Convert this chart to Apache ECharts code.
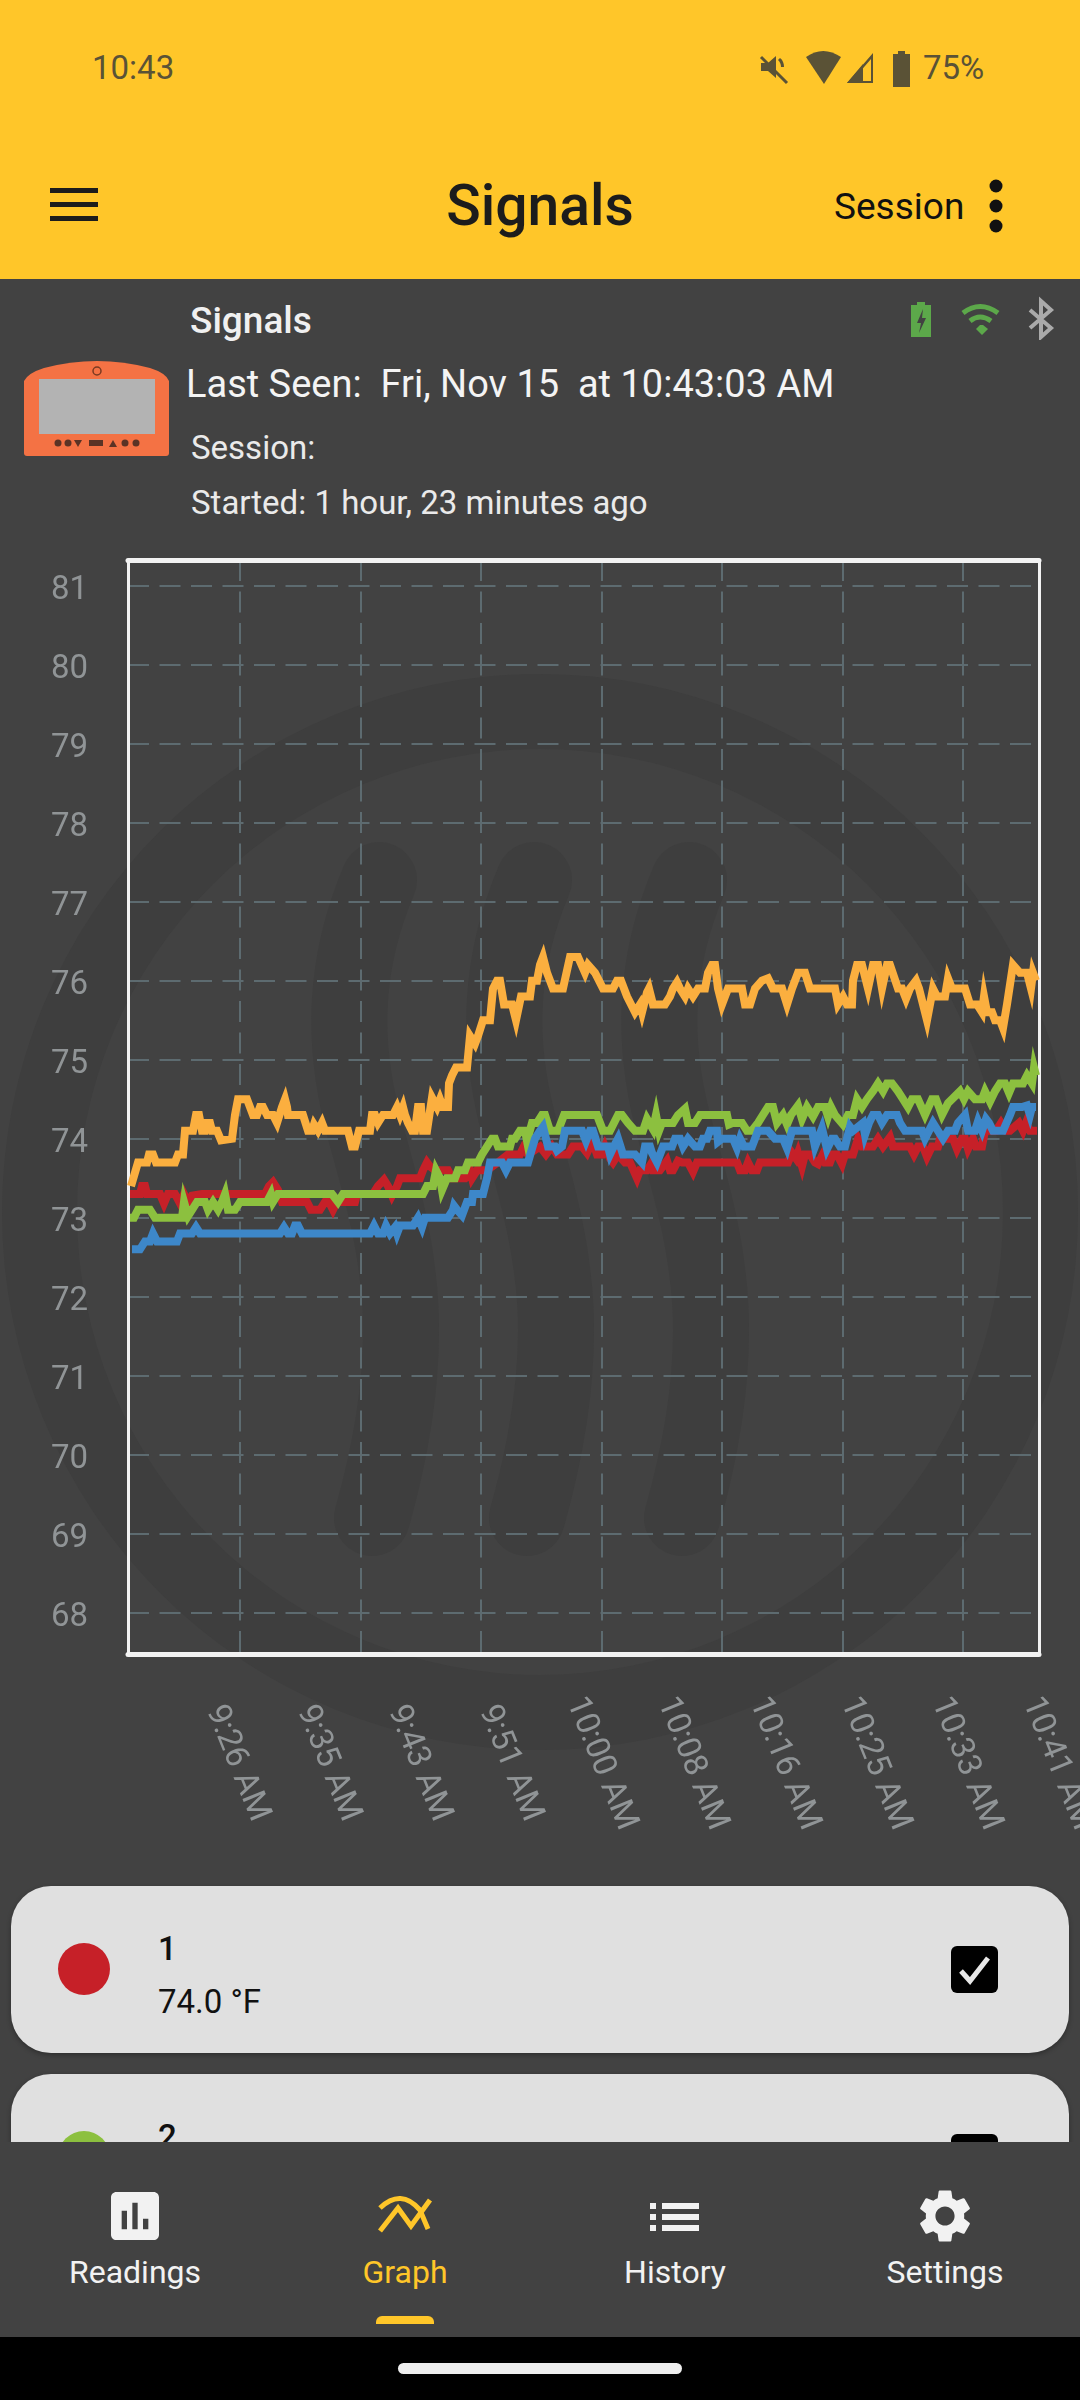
<!DOCTYPE html>
<html lang="en">
<head>
<meta charset="UTF-8">
<title>Signals</title>
<script src="https://cdn.jsdelivr.net/npm/echarts@6/dist/echarts.min.js"></script>
<style>
    html, body { margin: 0; background: #424242; }
    #app { position: relative; width: 1080px; height: 2400px; overflow: hidden; background: #424242; font-family: Roboto, sans-serif; }
    #app > * { position: absolute; }
    #chart { left: 0; top: 540px; width: 1080px; height: 1340px; }
    .t { white-space: pre; transform: translateY(-50%); line-height: 1; }
    .c { transform: translate(-50%, -50%); }
    .card { left: 11px; width: 1058px; background: #e0e0e0; border-radius: 40px; box-shadow: 0 2px 5px rgba(0,0,0,.3); }
</style>
</head>
<body>
<div id="app">
    <svg style="left:0;top:0" width="1080" height="2400">
        <path fill="#3e3e3e" fill-rule="evenodd" d="M2 1212a538 538 0 1 0 1076 0a538 538 0 1 0 -1076 0zM77 1212a463 463 0 1 1 926 0a463 463 0 1 1 -926 0z"/>
        <g fill="none" stroke="#3e3e3e" stroke-width="76" stroke-linecap="round">
            <path d="M379 880C345 960 340 1040 365 1130C395 1240 425 1330 372 1518"/>
            <path d="M534 880C500 960 495 1040 520 1130C550 1240 580 1330 527 1518"/>
            <path d="M689 880C655 960 650 1040 675 1130C705 1240 735 1330 682 1518"/>
        </g>
    </svg>
    <div id="chart"></div>

    <!-- top bar -->
    <div style="left:0;top:0;width:1080px;height:279px;background:#ffc629"></div>
    <div class="t" style="left:92px;top:67px;font-size:33px;color:#5a5236">10:43</div>
    <svg style="left:755px;top:48px" width="190" height="40" fill="#5a5236">
        <path d="M6 9l26 26" stroke="#5a5236" stroke-width="3"/>
        <path d="M6 15h7l8-7v22l-8-7H6z"/>
        <path d="M26 19c0-3-1-5-3-7l2-2c3 2 4 6 4 9z"/>
        <path d="M51 9q17-12 35 0l-17 27z"/>
        <path d="M92 35L118 5v30zM116 33V11L97 33z" fill-rule="evenodd"/>
        <path d="M92 35L108 16v19z"/>
        <path d="M138 6h5V3h7v3h5v33h-17z"/>
    </svg>
    <div class="t" style="left:923px;top:67px;font-size:33px;color:#5a5236">75%</div>
    <svg style="left:50px;top:188px" width="48" height="34" fill="#1c1c1c">
        <rect y="0" width="48" height="5"/><rect y="14" width="48" height="5"/><rect y="28" width="48" height="5"/>
    </svg>
    <div class="t c" style="left:540px;top:205px;font-size:57px;font-weight:500;color:#1c1c1c">Signals</div>
    <div class="t" style="left:834px;top:206px;font-size:37px;color:#111">Session</div>
    <svg style="left:988px;top:178px" width="16" height="56" fill="#111">
        <circle cx="8" cy="8" r="6.5"/><circle cx="8" cy="28" r="6.5"/><circle cx="8" cy="48" r="6.5"/>
    </svg>

    <!-- device header -->
    <div class="t" style="left:190px;top:320px;font-size:37px;font-weight:500;color:#f0f0f0">Signals</div>
    <svg style="left:903px;top:296px" width="160" height="44">
        <path fill="#5ca84a" d="M8 9h6V6h8v3h6v32H8z"/>
        <path fill="#424242" d="M20 13l-6 14h4l-2 10 7-15h-4z"/>
        <g fill="none" stroke="#5ca84a" stroke-width="5">
            <path d="M60 17q17-13 35 0"/><path d="M67 25q10-8 21 0"/>
        </g>
        <path fill="#5ca84a" d="M77 29h3l5 4-6 6-6-6z"/>
        <path fill="none" stroke="#aaa" stroke-width="4" d="M127 14l21 18-10 9V5l10 9-21 18"/>
    </svg>
    <div class="t" style="left:186px;top:384px;font-size:38px;color:#f4f4f4">Last Seen:  Fri, Nov 15  at 10:43:03 AM</div>
    <svg style="left:24px;top:359px" width="146" height="98">
        <path fill="#f47244" d="M0 22Q4 14 20 9Q73 -5 126 9Q142 14 145 22V94q0 3-3 3H3q-3 0-3-3z"/>
        <rect x="15" y="20" width="116" height="55" fill="#b3b3b3"/>
        <circle cx="73" cy="12" r="4" fill="none" stroke="#7a3a22" stroke-width="1.5"/>
        <g fill="#5b3325">
            <circle cx="34" cy="84" r="3.5"/><circle cx="44" cy="84" r="3.5"/><path d="M50 81h8l-4 7z"/>
            <rect x="65" y="81" width="14" height="6"/>
            <path d="M85 88h8l-4-7z"/><circle cx="101" cy="84" r="3.5"/><circle cx="112" cy="84" r="3.5"/>
        </g>
    </svg>
    <div class="t" style="left:191px;top:447px;font-size:33px;color:#eaeaea">Session:</div>
    <div class="t" style="left:191px;top:502px;font-size:33px;color:#eaeaea">Started: 1 hour, 23 minutes ago</div>

    <!-- sensor cards -->
    <div class="card" style="top:1886px;height:167px"></div>
    <svg style="left:58px;top:1943px" width="52" height="52"><circle cx="26" cy="26" r="26" fill="#c62028"/></svg>
    <div class="t" style="left:158px;top:1948px;font-size:33px;font-weight:500;color:#111">1</div>
    <div class="t" style="left:158px;top:2001px;font-size:33px;color:#111">74.0 °F</div>
    <svg style="left:951px;top:1946px" width="48" height="48">
        <rect width="47" height="47" rx="6" fill="#000"/>
        <path d="M10 25l9 10L37 12" fill="none" stroke="#e8e8e8" stroke-width="5"/>
    </svg>
    <div class="card" style="top:2074px;height:167px"></div>
    <svg style="left:58px;top:2131px" width="52" height="52"><circle cx="26" cy="26" r="26" fill="#8cc03f"/></svg>
    <div class="t" style="left:158px;top:2136px;font-size:33px;font-weight:500;color:#111">2</div>
    <svg style="left:951px;top:2134px" width="48" height="48"><rect width="47" height="47" rx="6" fill="#000"/></svg>

    <!-- bottom navigation -->
    <div style="left:0;top:2142px;width:1080px;height:195px;background:#424242"></div>
    <div style="left:0;top:2337px;width:1080px;height:63px;background:#000"></div>
    <div style="left:398px;top:2363px;width:284px;height:11px;border-radius:6px;background:#eee"></div>
    <svg style="left:103px;top:2184px" width="64" height="64" viewBox="0 0 24 24" fill="#f2f2f2">
        <path d="M19 3H5c-1.1 0-2 .9-2 2v14c0 1.1.9 2 2 2h14c1.1 0 2-.9 2-2V5c0-1.1-.9-2-2-2zM9 17H7v-7h2v7zm4 0h-2V7h2v10zm4 0h-2v-4h2v4z"/>
    </svg>
    <svg style="left:375px;top:2190px" width="60" height="50" fill="none" stroke="#ffc629" stroke-width="5">
        <path d="M5 41L23 18l13 18L55 10"/>
        <path d="M5 18Q26 -2 45 20l8 19"/>
    </svg>
    <svg style="left:650px;top:2202px" width="50" height="30" fill="#f2f2f2">
        <rect x="0" y="1" width="6" height="6"/><rect x="12" y="1" width="37" height="6"/>
        <rect x="0" y="12" width="6" height="6"/><rect x="12" y="12" width="37" height="6"/>
        <rect x="0" y="23" width="6" height="6"/><rect x="12" y="23" width="37" height="6"/>
    </svg>
    <svg style="left:913px;top:2184px" width="64" height="64" viewBox="0 0 24 24" fill="#f2f2f2">
        <path d="M19.14 12.94c.04-.3.06-.61.06-.94 0-.32-.02-.64-.07-.94l2.03-1.58c.18-.14.23-.41.12-.61l-1.92-3.32c-.12-.22-.37-.29-.59-.22l-2.39.96c-.5-.38-1.03-.7-1.62-.94l-.36-2.54c-.04-.24-.24-.41-.48-.41h-3.84c-.24 0-.43.17-.47.41l-.36 2.54c-.59.24-1.13.57-1.62.94l-2.39-.96c-.22-.08-.47 0-.59.22L2.74 8.87c-.12.21-.08.47.12.61l2.03 1.58c-.05.3-.09.63-.09.94s.02.64.07.94l-2.03 1.58c-.18.14-.23.41-.12.61l1.92 3.32c.12.22.37.29.59.22l2.39-.96c.5.38 1.03.7 1.62.94l.36 2.54c.05.24.24.41.48.41h3.84c.24 0 .44-.17.47-.41l.36-2.54c.59-.24 1.13-.56 1.62-.94l2.39.96c.22.08.47 0 .59-.22l1.92-3.32c.12-.22.07-.47-.12-.61l-2.01-1.58zM12 15.6c-1.98 0-3.6-1.62-3.6-3.6s1.62-3.6 3.6-3.6 3.6 1.62 3.6 3.6-1.62 3.6-3.6 3.6z"/>
    </svg>
    <div class="t c" style="left:135px;top:2272px;font-size:32px;color:#f2f2f2">Readings</div>
    <div class="t c" style="left:405px;top:2272px;font-size:32px;color:#ffc629">Graph</div>
    <div class="t c" style="left:675px;top:2272px;font-size:32px;color:#f2f2f2">History</div>
    <div class="t c" style="left:945px;top:2272px;font-size:32px;color:#f2f2f2">Settings</div>
    <div style="left:376px;top:2316px;width:58px;height:8px;border-radius:6px 6px 0 0;background:#ffc629"></div>
</div>

<script type="text/javascript">
    var red = [[2,73.3],[12,73.3],[14,73.4],[17,73.4],[19,73.3],[32,73.3],[36,73.18],[40,73.3],[47,73.3],[52,73.18],[56,73.3],[60,73.2],[64,73.28],[74,73.3],[137,73.3],[141,73.4],[145,73.45],[150,73.35],[154,73.2],[179,73.2],[183,73.1],[187,73.1],[192,73.1],[197,73.2],[201,73.2],[205,73.1],[209,73.2],[227,73.2],[229,73.3],[245,73.3],[250,73.4],[256,73.48],[260,73.4],[264,73.28],[269,73.4],[272,73.5],[292,73.5],[295,73.6],[299,73.7],[302,73.65],[307,73.6],[320,73.6],[324,73.5],[337,73.5],[342,73.6],[344,73.5],[349,73.6],[359,73.6],[370,73.7],[380,73.8],[392,73.8],[395,73.88],[400,73.8],[412,73.9],[418,73.8],[424,73.9],[429,73.8],[440,73.8],[445,73.9],[454,73.9],[459,73.82],[462,73.9],[465,73.95],[469,73.8],[474,73.8],[477,73.9],[482,73.75],[485,73.7],[490,73.8],[497,73.7],[502,73.7],[509,73.5],[512,73.6],[519,73.6],[523,73.68],[525,73.6],[532,73.6],[539,73.72],[542,73.6],[545,73.6],[550,73.72],[554,73.7],[560,73.7],[565,73.58],[569,73.7],[609,73.7],[612,73.6],[617,73.6],[620,73.7],[624,73.6],[629,73.6],[632,73.7],[660,73.7],[664,73.82],[668,73.75],[670,73.82],[674,73.65],[677,73.8],[682,73.8],[687,73.7],[690,73.68],[694,73.78],[697,73.7],[702,73.7],[705,73.8],[709,73.8],[714,73.68],[717,73.8],[725,73.8],[730,74.0],[734,73.9],[745,73.9],[750,74.0],[755,73.9],[762,74.02],[765,73.9],[782,73.9],[786,73.8],[790,73.9],[795,73.9],[799,73.77],[804,73.9],[810,73.9],[812,74.0],[825,74.0],[829,73.87],[834,74.0],[837,74.0],[840,73.87],[845,74.0],[848,73.9],[854,73.9],[857,74.1],[868,74.1],[873,74.2],[878,74.1],[882,74.1],[891,74.2],[895,74.1],[898,74.2],[902,74.1],[909,74.1]];
    var green = [[2,73.0],[6,73.0],[10,73.1],[22,73.1],[27,73.0],[54,73.0],[56,73.2],[60,73.02],[64,73.1],[69,73.2],[77,73.2],[80,73.1],[85,73.2],[90,73.1],[94,73.2],[97,73.3],[100,73.1],[107,73.1],[112,73.2],[139,73.2],[143,73.3],[145,73.2],[150,73.3],[204,73.3],[210,73.2],[215,73.3],[295,73.3],[299,73.4],[305,73.4],[308,73.6],[312,73.5],[314,73.35],[319,73.5],[327,73.5],[330,73.6],[337,73.6],[340,73.7],[350,73.7],[354,73.8],[359,73.9],[364,74.0],[367,74.0],[370,73.9],[382,73.9],[384,74.0],[387,74.0],[392,74.1],[397,74.1],[399,73.97],[404,74.2],[409,74.2],[414,74.3],[417,74.3],[422,74.1],[430,74.1],[436,74.3],[469,74.3],[475,74.1],[482,74.1],[490,74.3],[494,74.3],[500,74.2],[507,74.1],[515,74.1],[519,74.25],[525,74.12],[528,74.3],[531,74.1],[534,74.2],[545,74.2],[550,74.3],[557,74.38],[560,74.2],[567,74.2],[572,74.3],[599,74.3],[601,74.18],[605,74.2],[614,74.2],[619,74.1],[624,74.1],[630,74.2],[635,74.3],[640,74.4],[645,74.4],[649,74.2],[655,74.3],[659,74.18],[663,74.3],[670,74.42],[674,74.25],[679,74.4],[685,74.28],[690,74.4],[697,74.4],[700,74.28],[703,74.4],[707,74.3],[715,74.18],[720,74.3],[725,74.3],[729,74.5],[734,74.4],[739,74.5],[745,74.6],[750,74.7],[755,74.6],[759,74.7],[764,74.7],[770,74.6],[775,74.5],[780,74.4],[784,74.5],[790,74.5],[797,74.3],[804,74.5],[808,74.5],[814,74.3],[820,74.45],[832,74.6],[836,74.5],[840,74.6],[847,74.5],[854,74.5],[857,74.6],[862,74.47],[867,74.6],[872,74.7],[877,74.7],[881,74.58],[885,74.7],[895,74.7],[899,74.8],[904,74.7],[906,74.9],[908,74.8]];
    var blue = [[4,72.6],[12,72.6],[17,72.7],[22,72.7],[25,72.8],[29,72.7],[49,72.7],[52,72.8],[64,72.8],[68,72.88],[72,72.8],[152,72.8],[156,72.88],[160,72.8],[164,72.8],[167,72.9],[170,72.9],[174,72.8],[242,72.8],[246,72.9],[250,72.8],[255,72.8],[258,72.9],[262,72.8],[267,72.88],[269,72.8],[272,72.9],[285,72.9],[287,72.9],[290,73.0],[294,72.88],[297,73.0],[320,73.0],[325,73.1],[326,73.15],[329,73.1],[334,73.03],[339,73.2],[344,73.2],[345,73.3],[355,73.3],[359,73.5],[362,73.7],[374,73.7],[378,73.6],[382,73.7],[400,73.7],[407,74.0],[412,74.1],[415,74.15],[420,73.9],[427,73.9],[429,73.85],[434,73.9],[437,74.1],[454,74.1],[458,73.97],[462,74.1],[465,74.1],[470,73.9],[480,73.9],[482,73.8],[485,73.88],[490,74.0],[495,73.8],[507,73.8],[514,73.7],[517,73.9],[522,73.9],[524,73.82],[529,73.7],[535,73.9],[544,73.9],[547,74.0],[552,74.0],[555,73.9],[560,74.0],[567,73.9],[572,73.9],[575,74.0],[579,74.0],[582,74.1],[589,74.1],[590,73.96],[594,74.0],[605,74.0],[609,73.88],[612,74.0],[616,73.9],[624,73.9],[630,74.1],[640,74.1],[647,74.0],[655,74.0],[659,73.88],[664,74.1],[684,74.1],[687,73.9],[694,74.13],[699,73.87],[704,74.0],[707,74.0],[712,73.9],[717,73.9],[722,74.15],[725,74.1],[735,74.2],[737,74.05],[741,74.2],[745,74.3],[750,74.3],[754,74.2],[759,74.3],[769,74.3],[772,74.2],[777,74.1],[794,74.1],[797,74.0],[805,74.2],[810,74.1],[815,74.0],[820,74.1],[827,74.1],[830,74.2],[837,74.3],[840,74.1],[847,74.1],[850,74.22],[854,74.1],[858,74.25],[861,74.2],[865,74.1],[875,74.1],[882,74.3],[885,74.4],[894,74.4],[899,74.42],[902,74.3],[904,74.4],[908,74.4]];
    var orange = [[3,73.4],[5,73.4],[10,73.7],[19,73.7],[21,73.8],[25,73.8],[28,73.7],[47,73.7],[50,73.8],[55,73.8],[57,74.1],[65,74.1],[68,74.3],[71,74.3],[74,74.1],[77,74.1],[79,74.2],[82,74.2],[84,74.1],[89,74.1],[93,73.98],[95,74.0],[104,74.0],[107,74.3],[110,74.5],[119,74.5],[122,74.4],[125,74.3],[129,74.3],[132,74.4],[135,74.4],[139,74.3],[145,74.3],[149,74.2],[154,74.4],[157,74.5],[159,74.4],[160,74.3],[175,74.3],[180,74.1],[184,74.1],[186,74.18],[190,74.1],[194,74.2],[197,74.1],[220,74.1],[224,73.9],[227,73.9],[231,74.1],[242,74.1],[244,74.3],[247,74.3],[250,74.2],[255,74.3],[265,74.3],[269,74.4],[272,74.3],[275,74.4],[277,74.3],[280,74.2],[284,74.1],[287,74.1],[290,74.4],[293,74.4],[295,74.1],[299,74.1],[304,74.52],[309,74.4],[312,74.5],[315,74.4],[320,74.4],[321,74.7],[324,74.8],[328,74.9],[339,74.9],[342,75.3],[347,75.2],[350,75.3],[355,75.5],[362,75.5],[365,75.9],[369,76.0],[372,76.0],[376,75.7],[384,75.7],[388,75.5],[390,75.5],[393,75.8],[402,75.8],[404,76.0],[409,76.0],[412,76.2],[415,76.3],[419,76.1],[425,75.9],[435,75.9],[442,76.3],[450,76.3],[457,76.1],[460,76.2],[467,76.1],[475,75.9],[485,75.9],[489,76.0],[493,76.0],[499,75.8],[507,75.6],[512,75.7],[514,75.6],[519,75.85],[521,75.9],[525,75.7],[537,75.7],[542,75.8],[545,75.9],[549,75.98],[552,75.9],[557,75.8],[560,75.9],[565,75.8],[570,75.9],[577,75.9],[580,76.1],[584,76.2],[587,76.2],[590,75.9],[594,75.7],[600,75.9],[614,75.9],[617,75.7],[622,75.7],[627,75.9],[634,76.0],[640,76.03],[645,75.9],[654,75.9],[659,75.7],[664,75.9],[670,76.1],[677,76.1],[682,75.9],[707,75.9],[710,75.7],[715,75.8],[719,75.7],[724,75.7],[725,76.0],[729,76.2],[734,76.2],[740,75.9],[745,76.2],[750,76.2],[754,75.9],[759,76.2],[762,76.2],[770,75.9],[774,75.9],[778,75.77],[782,75.9],[788,76.0],[791,75.9],[799,75.5],[801,75.5],[805,75.9],[809,75.8],[817,75.8],[820,76.03],[824,75.9],[837,75.9],[842,75.7],[849,75.7],[854,75.6],[856,75.8],[859,75.6],[864,75.6],[867,75.5],[872,75.5],[875,75.4],[879,75.7],[885,76.2],[892,76.1],[899,76.1],[903,75.9],[905,76.1],[908,76.0]];
    var colors = ['#c62028', '#8cc03f', '#3d87c9', '#fbaf3f'];

    var yTicks = [68, 69, 70, 71, 72, 73, 74, 75, 76, 77, 78, 79, 80, 81];
    var xGridTicks = [112, 232.5, 353, 473.5, 594, 714.5, 835];
    var timeLabels = ['9:26 AM', '9:35 AM', '9:43 AM', '9:51 AM', '10:00 AM', '10:08 AM', '10:16 AM', '10:25 AM', '10:33 AM', '10:41 AM'];
    var timeLabelTicks = [109, 200, 291, 382, 473, 564, 656, 747, 838, 929];

    var gridLine = {show: true, lineStyle: {color: '#5d6b70', width: 2, type: [21, 10.5]}};
    var labelStyle = {color: '#909496', fontFamily: 'Roboto'};
    var yMin = 67.477, yMax = 81.325;

    var myChart = echarts.init(document.getElementById('chart'), null, {renderer: 'canvas'});
    var option = {
        animation: false,
        backgroundColor: 'transparent',
        grid: [
            {left: 128, top: 20, width: 911, height: 1094, show: false, outerBoundsMode: 'none'},
            // labels only: reaches the page edge and sits a bit lower, the labels don't line up with the grid lines
            {left: 128, top: 24.6, width: 952, height: 1094, show: false, outerBoundsMode: 'none'}
        ],
        xAxis: [
            {
                type: 'value', gridIndex: 0, min: 0, max: 911, position: 'bottom',
                axisLine: {onZero: false, lineStyle: {color: '#f2f2f2', width: 5}},
                axisTick: {show: false, customValues: xGridTicks},
                axisLabel: {show: false},
                splitLine: gridLine
            },
            {
                type: 'value', gridIndex: 0, min: 0, max: 911, position: 'top',
                axisLine: {onZero: false, lineStyle: {color: '#f2f2f2', width: 5}},
                axisTick: {show: false}, axisLabel: {show: false}, splitLine: {show: false}
            },
            {
                type: 'value', gridIndex: 1, min: 0, max: 952, position: 'bottom',
                axisLine: {show: false}, axisTick: {show: false}, splitLine: {show: false},
                axisLabel: {
                    show: true,
                    customValues: timeLabelTicks,
                    rotate: -68,
                    align: 'center',
                    verticalAlign: 'middle',
                    margin: 105,
                    color: labelStyle.color,
                    fontFamily: labelStyle.fontFamily,
                    fontSize: 33,
                    hideOverlap: false,
                    formatter: function (value) {
                        return timeLabels[timeLabelTicks.indexOf(value)];
                    }
                }
            }
        ],
        yAxis: [
            {
                type: 'value', gridIndex: 0, min: yMin, max: yMax, position: 'left',
                axisLine: {show: true, onZero: false, lineStyle: {color: '#f2f2f2', width: 3}},
                axisTick: {show: false, customValues: yTicks},
                axisLabel: {show: false},
                splitLine: gridLine
            },
            {
                type: 'value', gridIndex: 0, min: yMin, max: yMax, position: 'right',
                axisLine: {show: true, onZero: false, lineStyle: {color: '#f2f2f2', width: 3}},
                axisTick: {show: false}, axisLabel: {show: false}, splitLine: {show: false}
            },
            {
                type: 'value', gridIndex: 1, min: yMin, max: yMax, position: 'left',
                axisLine: {show: false}, axisTick: {show: false}, splitLine: {show: false},
                axisLabel: {customValues: yTicks, margin: 40, color: labelStyle.color, fontFamily: labelStyle.fontFamily, fontSize: 33}
            }
        ],
        series: [red, green, blue, orange].map(function (points, i) {
            return {
                name: String(i + 1),
                type: 'line',
                xAxisIndex: 0,
                yAxisIndex: 0,
                data: points,
                symbol: 'none',
                silent: true,
                lineStyle: {color: colors[i], width: 8, join: 'miter', miterLimit: 10, cap: 'butt'}
            };
        })
    };
    myChart.setOption(option, true);
</script>
</body>
</html>
